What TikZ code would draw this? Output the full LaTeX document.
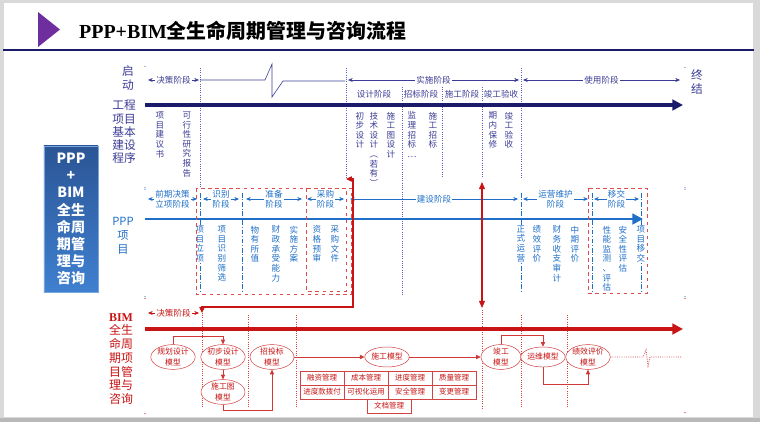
\documentclass[tikz,border=0pt]{standalone}
\usepackage{fontspec}
\setmainfont{Noto Sans CJK SC}
\newfontfamily\latinserif{Liberation Serif}
\usetikzlibrary{arrows.meta, shapes.geometric, positioning}

\definecolor{ttlnavy}{HTML}{1B1B6B}
\definecolor{stnavy}{HTML}{3C3C96}
\definecolor{dotnavy}{HTML}{5E5EC8}
\definecolor{axisviolet}{HTML}{7466C4}
\definecolor{pppblue}{HTML}{1F6FC8}
\definecolor{bimred}{HTML}{C81414}
\definecolor{dashred}{HTML}{E04C4C}
\definecolor{boxtop}{HTML}{2B5595}
\definecolor{boxbot}{HTML}{3F80D0}
\definecolor{tripurple}{HTML}{6E2E9E}

% one character per line
\newcommand\vtxt[1]{\expandafter\vtxtloop#1\vtxtend}
\def\vtxtloop#1#2\vtxtend{#1\ifx\relax#2\relax\expandafter\vtxtstop\else\expandafter\vtxtnext\fi{#2}}
\def\vtxtstop#1{}
\def\vtxtnext#1{\\\vtxtloop#1\vtxtend}

\begin{document}
\begin{tikzpicture}[
    x=0.03cm, y=-0.03cm,
    >={Stealth[length=4pt,width=3.4pt]},
    lbl/.style={fill=white, inner sep=1pt, align=center,
        font=\fontsize{7.3}{8.6}\selectfont},
    stg/.style={<->, line width=0.5pt},
    vt/.style={anchor=north, fill=white, inner sep=0.5pt, align=center,
        font=\fontsize{7.3}{8.2}\selectfont},
    axisline/.style={line width=0.6pt, double=white, double distance=1pt, line cap=round},
    mainarr/.style={line width=2.6pt, -{Triangle[length=9pt,width=9pt]}},
    navydot/.style={dotnavy, line width=0.7pt, dash pattern=on 0.7pt off 1.2pt},
    reddot/.style={bimred!80, line width=0.7pt, dash pattern=on 0.7pt off 1.2pt},
    ddline/.style={pppblue, line width=0.7pt, dash pattern=on 4pt off 1.5pt on 0.8pt off 1.5pt},
    redbox/.style={dashred, dashed, line width=0.7pt},
    ell/.style={ellipse, draw=bimred!85, fill=white, text=bimred, inner sep=0pt,
        minimum width=1.32cm, minimum height=0.6cm, align=center,
        font=\fontsize{6.7}{8.8}\selectfont},
    bimarr/.style={bimred!85, line width=0.6pt, -{Triangle[length=4pt,width=3.6pt]}},
    cell/.style={draw=bimred!80, text=bimred, minimum width=1.32cm, minimum height=0.42cm,
        inner sep=0pt, font=\fontsize{6.4}{7}\selectfont},
    side/.style={align=center, font=\fontsize{10}{11.3}\selectfont}
]

% slide
\fill[gray!30] (0,0) rectangle (760,422);
\fill[white] (4,3) rectangle (753,417);
\fill[gray!55] (0,418) rectangle (760,422);
\useasboundingbox (0,0) rectangle (760,422);

% title
\fill[tripurple] (38,12) -- (60,29.5) -- (38,47) -- cycle;
\node[anchor=west, inner sep=0pt, font=\fontsize{17}{20}\selectfont] (title) at (79,31)
    {{\latinserif\bfseries PPP+BIM}\bfseries 全生命周期管理与咨询流程};
\draw[ttlnavy, line width=1.6pt] (3,50) -- (754,50);

% left box
\node[top color=boxtop, bottom color=boxbot, draw=boxbot!70!white,
    minimum width=1.62cm, minimum height=4.38cm, text=white, align=center, inner sep=0pt,
    font=\fontsize{12}{14.6}\selectfont\bfseries] (pppbox) at (71,219)
    {PPP\\+\\BIM\\全生\\命周\\期管\\理与\\咨询};

% row labels
\node[side, text=stnavy] (qidong) at (128,78) {启\\动};
\node[side, text=stnavy] (jscx) at (124,132) {工程\\项目\\基本\\建设\\程序};
\node[side, text=stnavy] (zhongjie) at (697,82) {终\\结};
\node[side, text=pppblue, font=\fontsize{9.6}{12}\selectfont] (pppxm) at (123,236) {PPP\\项\\目};
\node[side, text=bimred, font=\fontsize{10.2}{11.7}\selectfont] (bimxm) at (121,359)
    {{\latinserif\bfseries BIM}\\全生\\命周\\期项\\目管\\理与\\咨询};

% axes
\draw[axisline, axisviolet] (145,67) -- (145,187);
\draw[axisline, pppblue!85] (145,190) -- (145,296);
\draw[axisline, bimred] (145,299) -- (145,413);
\draw[axisline, axisviolet] (685,68) -- (685,187);
\draw[axisline, pppblue!85] (685,190) -- (685,296);
\draw[axisline, bimred] (685,299) -- (685,412);

% ---- construction procedure
\foreach \x/\ya/\yb in {200/68/188, 346/68/178, 402/87/295, 442/87/178, 482/87/178, 521/68/178}
    \draw[navydot] (\x,\ya) -- (\x,\yb);

\draw[stg, stnavy] (148,80) -- node[lbl] (jcT) {决策阶段} (199,80);
\draw[stnavy, line width=0.5pt] (200,80) -- (265,80) -- (272,64) -- (272,97) -- (283,81) -- (345,81);
\draw[stg, stnavy] (348,80) -- node[lbl] (ssT) {实施阶段} (519,80);
\draw[stg, stnavy] (523,80) -- node[lbl] (syT) {使用阶段} (680,80);

\foreach \x/\t [count=\i] in {374/设计阶段, 421/招标阶段, 462/施工阶段, 501/竣工验收}
    \node[lbl, text=stnavy] (sub\i) at (\x,94) {\t};

\coordinate (navyS) at (145,105);
\coordinate (navyE) at (683,105);
\draw[mainarr, ttlnavy] (navyS) -- (navyE);

\foreach \x/\t [count=\i] in {160/项目建议书, 187/可行性研究报告, 360/初步设计, 374/技术设计︵若有︶,
        391/施工图设计, 412/监理招标…, 433/施工招标, 493/期内保修, 509/竣工验收}
    \node[vt, text=stnavy] (jsv\i) at (\x,111) {\vtxt{\t}};

% ---- PPP project
\foreach \x in {200, 242, 521, 592, 641}
    \draw[ddline] (\x,193) -- (\x,292);

\draw[stg, pppblue] (148,199) -- node[lbl] (pq1) {前期决策\\立项阶段} (197,199);
\draw[stg, pppblue] (203,199) -- node[lbl] (pq2) {识别\\阶段} (239,199);
\draw[stg, pppblue] (246,199) -- node[lbl] (pq3) {准备\\阶段} (302,199);
\draw[stg, pppblue] (307,199) -- node[lbl] (pq4) {采购\\阶段} (344,199);
\draw[stg, pppblue] (350,199) -- node[lbl] (pq5) {建设阶段} (518,199);
\draw[stg, pppblue] (523,199) -- node[lbl] (pq6) {运营维护\\阶段} (588,199);
\draw[stg, pppblue] (594,199) -- node[lbl] (pq7) {移交\\阶段} (639,199);

\coordinate (pppS) at (145,219);
\coordinate (pppE) at (643,219);
\draw[mainarr, pppblue, line width=2.4pt] (pppS) -- (pppE);

\foreach \x/\t [count=\i] in {200/项目立项, 222/项目识别筛选, 255/物有所值, 276/财政承受能力,
        294/实施方案, 317/资格预审, 335/采购文件, 521/正式运营, 537/绩效评价,
        557/财务收支审计, 575/中期评价, 607/性能监测、评估, 623/安全性评估, 641/项目移交}
    \node[vt, text=pppblue] (pv\i) at (\x,225) {\vtxt{\t}};

\draw[redbox] (196,188) rectangle (351,294);
\draw[redbox] (306,188) rectangle (346,291);
\draw[redbox] (588,188) rectangle (647,293);

% links between the rows
\coordinate (jgTop) at (482,182);
\coordinate (jgBot) at (482,308);
\draw[bimred, line width=0.9pt, {Triangle[length=6pt,width=5pt]}-{Triangle[length=6pt,width=5pt]}]
    (jgTop) -- (jgBot);
\coordinate (sjTop) at (346,179);
\coordinate (jcBim) at (202,313);
\draw[bimred, line width=0.9pt, {Triangle[length=5pt,width=4.5pt]}-{Triangle[length=5pt,width=4.5pt]}]
    (sjTop) -- (353,179) -- (353,307) -- (202,307) -- (jcBim);

% ---- BIM
\draw[stg, bimred] (148,313) -- node[lbl] (bjc) {决策阶段} (199,313);
\foreach \x/\ya in {202/313, 248/315, 296/315, 482/310, 521/315, 567/315}
    \draw[reddot] (\x,\ya) -- (\x,408);

\coordinate (bimS) at (145,329);
\coordinate (bimE) at (683,329);
\draw[mainarr, bimred, line width=3pt] (bimS) -- (bimE);

\node[ell] (ghsj) at (173,357) {规划设计\\模型};
\node[ell] (cbsj) at (223,357) {初步设计\\模型};
\node[ell] (sgt) at (223,392) {施工图\\模型};
\node[ell] (ztb) at (272,357) {招投标\\模型};
\node[ell] (sgmx) at (387,357) {施工模型};
\node[ell, minimum width=1.2cm] (jgmx) at (501,357) {竣工\\模型};
\node[ell] (ywmx) at (543,357) {运维模型};
\node[ell] (jxpj) at (588,357) {绩效评价\\模型};

\draw[bimarr] (ghsj.north) -- ++(0,-8) -| (cbsj.north);
\draw[bimarr] (cbsj) -- (sgt);
\draw[bimarr] (sgt.south) -- ++(0,6) -| (ztb.south);
\draw[bimarr] (ztb) -- (sgmx);
\draw[bimarr] (sgmx) -- (jgmx);
\draw[bimarr] (jgmx.north) -- ++(0,-9) -| (ywmx.north);
\draw[bimarr] (ywmx.south) -- ++(0,17) -| (jxpj.south);
\coordinate (bimTail) at (681,357);
\draw[reddot] (jxpj.east) -- (643,357) -- (646,350) -- (648,366) -- (650,357) -- (bimTail);

\foreach \t [count=\i] in {融资管理, 成本管理, 进度管理, 质量管理}
    \node[cell] (ra\i) at (278+44*\i,378) {\t};
\foreach \t [count=\i] in {进度款拨付, 可视化运用, 安全管理, 变更管理}
    \node[cell] (rb\i) at (278+44*\i,392) {\t};
\node[cell] (wdgl) at (389,406) {文档管理};

\end{tikzpicture}
\end{document}
